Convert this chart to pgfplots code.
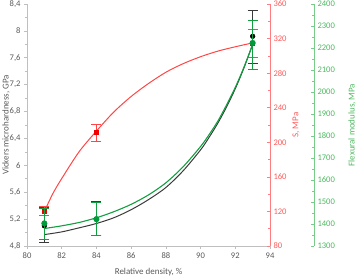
\documentclass[border=0pt]{standalone}
\usepackage{pgfplots}
\pgfplotsset{compat=1.18}
\usepackage{fontspec}
\setmainfont{Carlito}
\definecolor{axgray}{HTML}{BFBFBF}
\definecolor{txtgray}{HTML}{595959}
\definecolor{redline}{HTML}{FF4545}
\definecolor{redmark}{HTML}{F00000}
\definecolor{redax}{HTML}{FF7C80}
\definecolor{redtxt}{HTML}{FF5A5A}
\definecolor{grnline}{HTML}{10A040}
\definecolor{grnmark}{HTML}{009A3A}
\definecolor{grnax}{HTML}{78CC88}
\definecolor{grntxt}{HTML}{4DB860}
\definecolor{blkline}{HTML}{3A3A3A}
\begin{document}
\begin{tikzpicture}
\pgfplotsset{
  base/.style={
    scale only axis, width=243bp, height=242bp,
    xmin=80, xmax=94,
    font=\fontsize{9}{10.8}\selectfont,
    ticklabel style={font=\fontsize{8.6}{10}\selectfont},
    /pgf/number format/assume math mode=true,
    /pgf/number format/use comma,
    /pgf/number format/1000 sep={},
    major tick length=3bp, minor tick length=2bp,
  },
}
% ---------------- left axis: hardness (black)
\begin{axis}[base, ymin=4.8, ymax=8.4,
  axis x line*=bottom, axis y line*=left,
  axis line style={axgray, line width=0.8pt},
  every tick/.style={axgray, line width=0.6pt},
  xtick={80,82,84,86,88,90,92,94},
  ytick={4.8,5.2,5.6,6,6.4,6.8,7.2,7.6,8,8.4},
  minor y tick num=1,
  tick align=outside,
  ticklabel style={text=txtgray},
  xlabel={Relative density, \%},
  ylabel={Vickers microhardness, GPa},
  every axis x label/.style={at={([yshift=-26bp]axis description cs:0.5,0)}, anchor=center, text=txtgray},
  every axis y label/.style={at={([xshift=-21bp]axis description cs:0,0.5)}, anchor=center, rotate=90, text=txtgray},
]
\addplot[blkline, line width=1pt, smooth] coordinates {
 (81,4.97)(82,5.01)(83,5.07)(84,5.135)(85,5.22)(86,5.34)(87,5.49)(88,5.67)(89,5.92)(90,6.23)(90.5,6.42)(91,6.63)(91.5,6.87)(92,7.14)(92.5,7.45)(93,7.80)};
\addplot[only marks, mark=*, mark size=2.4bp, black,
  error bars/.cd, y dir=both, y explicit,
  error bar style={blkline, line width=0.8pt},
  error mark options={blkline, line width=0.8pt, mark size=5bp, rotate=90}]
 coordinates {(81,5.10) += (0,0.27) -= (0,0.25)
              (84,5.20) += (0,0.26) -= (0,0.24)
              (93,7.92) += (0,0.39) -= (0,0.40)};
\end{axis}
% ---------------- right axis: S (red)
\begin{axis}[base, ymin=80, ymax=360,
  axis x line=none, axis y line*=right,
  axis line style={redax, line width=0.8pt},
  every tick/.style={redax, line width=0.6pt},
  ytick={80,120,160,200,240,280,320,360},
  minor y tick num=1,
  tick align=inside,
  yticklabel style={text=redtxt},
  ylabel={S, MPa},
  every axis y label/.style={at={([xshift=26bp]axis description cs:1,0.5)}, anchor=center, rotate=90, text=redtxt},
]
\addplot[redline, line width=1pt, smooth] coordinates {
 (81,120)(81.5,141)(82,158)(83,189)(84,213)(85,235)(86,253)(87,268)(88,281)(89,291)(90,299)(91,305.5)(92,310.5)(93,315)};
\addplot[only marks, mark=square*, mark size=2bp, redmark,
  error bars/.cd, y dir=both, y explicit,
  error bar style={redline, line width=0.8pt},
  error mark options={redline, line width=0.8pt, mark size=5bp, rotate=90}]
 coordinates {(81,120.4) += (0,5.6) -= (0,5.4)
              (84,212) += (0,9) -= (0,11.5)
              (93,315) += (0,15.5) -= (0,16.5)};
\end{axis}
% ---------------- flexural modulus data (green)
\begin{axis}[base, ymin=1300, ymax=2400, hide axis]
\addplot[grnline, line width=1.1pt, smooth] coordinates {
 (81,1379.4)(82,1391.7)(83,1406.9)(84,1428.3)(85,1455.8)(86,1489.4)(87,1532.2)(88,1587.2)(89,1660.6)(90,1752.2)(90.5,1807.2)(91,1868.3)(91.5,1941.7)(92,2021.1)(92.5,2112.8)(93,2216.7)};
\addplot[only marks, mark=*, mark size=2.8bp, grnmark,
  error bars/.cd, y dir=both, y explicit,
  error bar style={grnline, line width=0.8pt},
  error mark options={grnline, line width=0.8pt, mark size=5bp, rotate=90}]
 coordinates {(81,1403) += (0,68) -= (0,72)
              (84,1422) += (0,77) -= (0,76)
              (93,2223) += (0,104) -= (0,119)};
\end{axis}
% ---------------- flexural modulus axis (offset)
\begin{axis}[base, at={(44bp,0)}, ymin=1300, ymax=2400,
  axis x line=none, axis y line*=right,
  axis line style={grnax, line width=0.8pt},
  every tick/.style={grnax, line width=0.6pt},
  ytick={1300,1400,1500,1600,1700,1800,1900,2000,2100,2200,2300,2400},
  minor y tick num=1,
  tick align=inside,
  yticklabel style={text=grntxt},
  ylabel={Flexural modulus, MPa},
  every axis y label/.style={at={([xshift=38bp]axis description cs:1,0.5)}, anchor=center, rotate=90, text=grntxt},
]
\end{axis}
\pgfresetboundingbox
\path[use as bounding box] (-27bp,-31bp) rectangle (330bp,246bp);
\end{tikzpicture}
\end{document}
